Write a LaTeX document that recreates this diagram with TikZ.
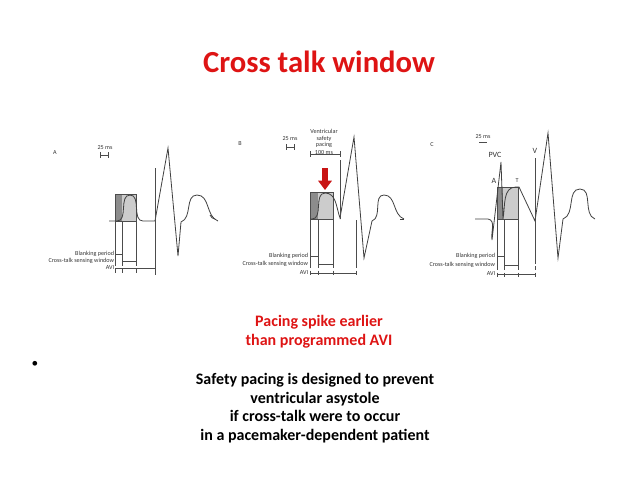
\documentclass[tikz,border=0pt]{standalone}
\usepackage{fontspec}
\setmainfont{Carlito}
\usetikzlibrary{arrows.meta}
\definecolor{titlered}{RGB}{222,20,20}
\definecolor{arrowred}{RGB}{200,20,20}
\begin{document}
\begin{tikzpicture}[x=0.75pt,y=-0.75pt,
  ecg/.style={line width=0.6pt,black!75},
  thin/.style={line width=0.35pt,black!70},
  lbl/.style={font=\fontsize{4.6}{5}\selectfont,inner sep=0.5pt,text=black!80},
  ttl/.style={font=\fontsize{23}{27}\selectfont\bfseries,text=titlered},
  redtxt/.style={font=\fontsize{12}{14}\selectfont\bfseries,text=titlered},
  blk/.style={font=\fontsize{12}{14}\selectfont\bfseries}]
\useasboundingbox (0,0) rectangle (638,479);
\node[ttl] (title) at (319,62) {Cross talk window};
% ---------- Panel A
\node[lbl] (la) at (55,153) {A};
\node[lbl] (sa) at (105,148) {25 ms};
\draw[thin,|-|] (100,155) -- (108,155);
\fill[black!20] (115,194) rectangle (136,221);
\fill[black!45] (115,194) rectangle (122,221);
\draw[thin] (115,194) rectangle (136,221);
\draw[ecg] (109,221) -- (117,221) to[out=0,in=180] (130,195) to[out=0,in=180] (143,221) -- (155,221)
  -- (168,148) -- (178,256) -- (181,222) to[out=20,in=180] (197,195) to[out=0,in=160] (218,221);
\draw[thin] (155,168) -- (155,275);
\foreach \x in {115,122,136}{\draw[thin] (\x,221) -- (\x,262); \draw[thin,densely dashed] (\x,262)--(\x,275);}
\draw[thin,densely dashed] (155,262)--(155,275);
\node[lbl,anchor=east] (ba) at (115,254) {Blanking period};
\node[lbl,anchor=east] (ca) at (115,261) {Cross-talk sensing window};
\node[lbl,anchor=east] (aa) at (115,268) {AVI};
\draw[thin] (ba.east) -- (122,254);
\draw[thin] (122,261) -- (136,261);
\draw[thin] (aa.east) -- (155,268);
% ---------- Panel B
\node[lbl] (lb) at (240,144) {B};
\node[lbl] (sb) at (290,139) {25 ms};
\draw[thin,|-|] (286,147) -- (294,147);
\node[lbl,align=center] (vb) at (324,142) {Ventricular\\safety\\pacing\\[1pt]100 ms};
\draw[thin,|-|] (310,154) -- (340,154);
\draw[ecg] (210,215) to[out=-60,in=180] (215,219);
\fill[black!20] (310,192) rectangle (333,219);
\fill[black!45] (310,192) rectangle (318,219);
\draw[thin] (310,192) rectangle (333,219);
\draw[ecg] (310,219) -- (312,219) to[out=0,in=180] (325,193) to[out=0,in=110] (340,218)
  -- (354,137) -- (364,258) -- (372,221) to[out=20,in=180] (384,195) to[out=0,in=160] (404,219);
\draw[thin] (340,160) -- (340,219);
\draw[line width=4pt,arrowred,-{Triangle[length=7pt,width=10pt]}] (325,168) -- (325,190);
\foreach \x in {310,318,333}{\draw[thin] (\x,219) -- (\x,264); \draw[thin,densely dashed] (\x,264)--(\x,276);}
\draw[thin] (356,220) -- (356,264); \draw[thin,densely dashed] (356,264)--(356,276);
\node[lbl,anchor=east] (bb) at (309,256) {Blanking period};
\node[lbl,anchor=east] (cb) at (309,264) {Cross-talk sensing window};
\node[lbl,anchor=east] (ab) at (309,273) {AVI};
\draw[thin] (310,256) -- (318,256);
\draw[thin] (318,264) -- (333,264);
\draw[thin] (310,273) -- (356,273);
% ---------- Panel C
\node[lbl] (lc) at (432,145) {C};
\node[lbl] (sc) at (483,137) {25 ms};
\draw[thin] (479,142) -- (487,142);
\node[lbl,font=\fontsize{6}{7}\selectfont] (pvc) at (495,155) {PVC};
\node[lbl,font=\fontsize{6}{7}\selectfont] (ac) at (494,181) {A};
\node[lbl] (tc) at (517,181) {T};
\node[lbl,font=\fontsize{6}{7}\selectfont] (vc) at (535,151) {V};
\draw[ecg] (400,219) -- (404,219);
\fill[black!20] (497,187) rectangle (518,219);
\fill[black!45] (497,187) rectangle (503,219);
\draw[thin] (497,187) rectangle (518,219);
\draw[ecg] (475,219) -- (488,219) to[out=-10,in=100] (492,240) -- (501,162) -- (503,219) to[out=80,in=180] (516,187) -- (519,187)
  -- (535,221) -- (548,133) -- (558,258) -- (563,219) to[out=20,in=180] (580,189) to[out=0,in=160] (595,219);
\draw[thin] (535,158) -- (535,264);
\foreach \x in {497,504,518}{\draw[thin] (\x,219) -- (\x,266); \draw[thin,densely dashed] (\x,266)--(\x,278);}
\draw[thin,densely dashed] (535,266)--(535,278);
\node[lbl,anchor=east] (bc) at (496,256) {Blanking period};
\node[lbl,anchor=east] (cc) at (496,265) {Cross-talk sensing window};
\node[lbl,anchor=east] (avc) at (496,274) {AVI};
\draw[thin] (497,256) -- (504,256);
\draw[thin] (504,265) -- (518,265);
\draw[thin] (497,274) -- (535,274);
% ---------- Texts
\node[redtxt,align=center] (rt) at (319,332) {Pacing spike earlier\\than programmed AVI};
\node (bul) at (35,364) {\textbullet};
\node[blk,align=center] (bt) at (315,408) {Safety pacing is designed to prevent\\ventricular asystole\\if cross-talk were to occur\\in a pacemaker-dependent patient};
\end{tikzpicture}
\end{document}
